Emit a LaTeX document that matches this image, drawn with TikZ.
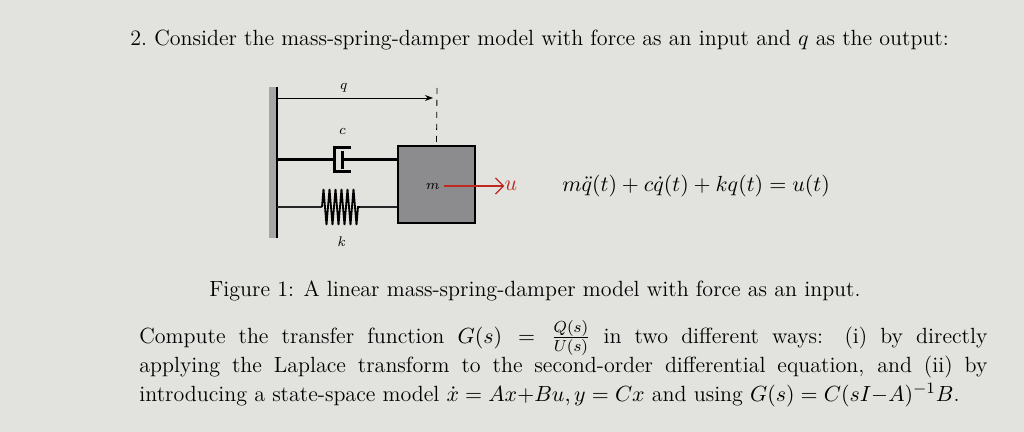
\documentclass[tikz,border=0pt]{standalone}
\usepackage{amsmath}
\usetikzlibrary{decorations.pathmorphing,arrows.meta}
\definecolor{paper}{RGB}{226,226,222}
\definecolor{boxgray}{RGB}{140,140,142}
\definecolor{arrred}{RGB}{190,40,30}
\tikzset{lbl/.style={inner sep=0pt,font=\scriptsize\itshape},
  txt/.style={inner sep=0pt,anchor=west}}
\begin{document}
\begin{tikzpicture}[x=0.5pt,y=-0.5pt,every node/.append style={font=\fontsize{11}{14.5}\selectfont}]
\fill[paper] (0,0) rectangle (1024,432);
\useasboundingbox (0,0) rectangle (1024,432);
\node[txt] (title) at (130,40) {2.\ Consider the mass-spring-damper model with force as an input and $q$ as the output:};
% wall
\fill[gray!70] (269,87) rectangle (276,238);
\draw[line width=1.2pt] (277,87) -- (277,238);
% q arrow
\coordinate (q0) at (278,98);
\coordinate (q1) at (433,98);
\draw[-{Stealth[length=4pt]},thin] (q0) -- (q1);
\node[lbl,font=\scriptsize\itshape] (ql) at (343,88) {q};
% mass
\node[draw,fill=boxgray,line width=0.8pt,minimum width=38.5pt,minimum height=38.5pt,inner sep=0pt] (m) at (436.5,184.5) {};
\draw[dashed,thin] (437,88) -- (m.north);
% damper
\coordinate (d0) at (277,160);
\draw[line width=1.5pt] (d0) -- (334,160);
\draw[line width=1.5pt] (351,148) -- (334,148) -- (334,172) -- (351,172);
\draw[line width=1.5pt] (342,151) -- (342,169);
\draw[line width=1.5pt] (342,160) -- (m.west |- 0,160);
\node[lbl,font=\scriptsize\itshape] (cl) at (342,131) {c};
% spring
\draw[line width=1.2pt,gray!30!black] (277,207) -- (322,207);
\draw[line width=0.9pt] (322,207) decorate[decoration={zigzag,segment length=3pt,amplitude=9pt}]{-- (360,207)};
\draw[line width=1.2pt,gray!30!black] (360,207) -- (m.west |- 0,207);
\node[lbl,font=\scriptsize\itshape] (kl) at (341,242) {k};
% force
\node[lbl,font=\scriptsize\itshape] (ml) at (432,186) {m};
\node[inner sep=0pt,text=arrred] (u) at (511,186) {$u$};
\draw[arrred,-{Straight Barb[length=4pt]},semithick] (444,186) -- (u.west);
\node[txt] (eq) at (562,186) {$m\ddot q(t)+c\dot q(t)+kq(t)=u(t)$};
\node[inner sep=0pt] (cap) at (535,291) {Figure 1: A linear mass-spring-damper model with force as an input.};
\node[inner sep=0pt,anchor=north west,text width=424pt,align=justify] (par) at (139,320) {Compute the transfer function $G(s)=\frac{Q(s)}{U(s)}$ in two different ways: (i) by directly\linebreak applying the Laplace transform to the second-order differential equation, and (ii) by\linebreak introducing a state-space model $\dot x=Ax{+}Bu, y=Cx$ and using $G(s)=C(sI{-}A)^{-1}B$.};
\end{tikzpicture}
\end{document}
